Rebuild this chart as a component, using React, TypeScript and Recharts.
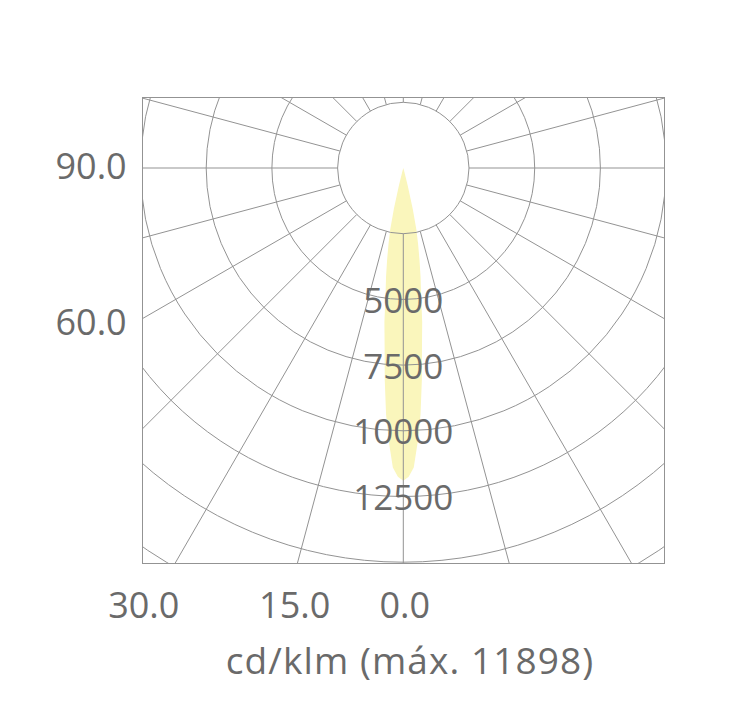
import React from 'react';
import { RadarChart, Radar, PolarGrid, PolarAngleAxis, PolarRadiusAxis } from 'recharts';

// luminous intensity (cd/klm) per gamma angle, 0 = straight down, symmetric beam
const beamGamma = [0, 1, 2, 3, 4, 5, 6, 7, 8, 9, 10, 11, 12, 13, 14, 15, 16];
const beamCdKlm = [11898, 11750, 11400, 10450, 9400, 8100, 6800, 5900, 4850, 4200, 3550, 2950, 2400, 1600, 700, 150, 0];

// rings of the diagram and the ones that carry a label
const ringValues = [2500, 5000, 7500, 10000, 12500, 15000, 17500, 20000];
const labeledRings = [5000, 7500, 10000, 12500];
const gridAngles = [0, 15, 30, 45, 60, 75, 90, 105, 120, 135, 150, 165, 180, 195, 210, 225, 240, 255, 270, 285, 300, 315, 330, 345];

const leftLabels = ['90.0', '60.0'];
const bottomLabels = ['30.0', '15.0', '0.0'];
const unitLabel = 'cd/klm (máx. 11898)';

const FONT = "'Open Sans', sans-serif";
const TEXT = '#6a6a6a';
const LINE = '#939393';

// one category per degree, intensity from the beam table (0 outside the beam)
const beamData = Array.from({ length: 360 }, (_, g) => {
  const d = g <= 180 ? g : 360 - g;
  const idx = beamGamma.indexOf(d);
  return { gamma: g, cd: idx >= 0 ? beamCdKlm[idx] : 0 };
});

const RingLabel = (props: any) => {
  const { x, y, payload } = props;
  if (!labeledRings.includes(payload.value)) return <g />;
  return (
    <text x={x} y={y} textAnchor="middle" dominantBaseline="central" fontSize={35} fontFamily={FONT} fill={TEXT}>
      {payload.value}
    </text>
  );
};

export default function App() {
  return (
    <div style={{ position: 'absolute', left: 0, top: 0, width: 749, height: 720, background: '#fff' }}>
      <div style={{ position: 'absolute', left: 142, top: 97, width: 523, height: 467, overflow: 'hidden' }}>
        <RadarChart
          width={523}
          height={467}
          data={beamData}
          cx={261.3}
          cy={71}
          innerRadius={65.7}
          outerRadius={525.6}
          startAngle={-90}
          endAngle={-450}
          margin={{ top: 0, right: 0, bottom: 0, left: 0 }}
        >
          <PolarAngleAxis dataKey="gamma" tick={false} axisLine={false} tickLine={false} />
          <Radar dataKey="cd" fill="#faf6bc" fillOpacity={1} stroke="none" dot={false} isAnimationActive={false} />
          <PolarGrid gridType="circle" polarAngles={gridAngles} stroke={LINE} strokeWidth={1} zIndex={300} />
          <PolarRadiusAxis
            angle={-90}
            type="number"
            domain={[2500, 20000]}
            ticks={ringValues}
            tickCount={8}
            allowDataOverflow
            axisLine={false}
            tick={RingLabel}
          />
        </RadarChart>
      </div>
      <div
        style={{
          position: 'absolute',
          left: 142,
          top: 97,
          width: 523,
          height: 467,
          border: `1px solid ${LINE}`,
          boxSizing: 'border-box',
        }}
      />
      <svg width={749} height={720} style={{ position: 'absolute', left: 0, top: 0 }}>
        <g fontFamily={FONT} fontSize={36} fill={TEXT}>
          <text x={126.7} y={179.3} textAnchor="end">{leftLabels[0]}</text>
          <text x={126.7} y={335} textAnchor="end">{leftLabels[1]}</text>
          <text x={143.8} y={618.3} textAnchor="middle">{bottomLabels[0]}</text>
          <text x={294.7} y={618.3} textAnchor="middle">{bottomLabels[1]}</text>
          <text x={404.7} y={618.3} textAnchor="middle">{bottomLabels[2]}</text>
          <text x={410} y={673.5} textAnchor="middle" fontSize={37} letterSpacing={1.1}>{unitLabel}</text>
        </g>
      </svg>
    </div>
  );
}
